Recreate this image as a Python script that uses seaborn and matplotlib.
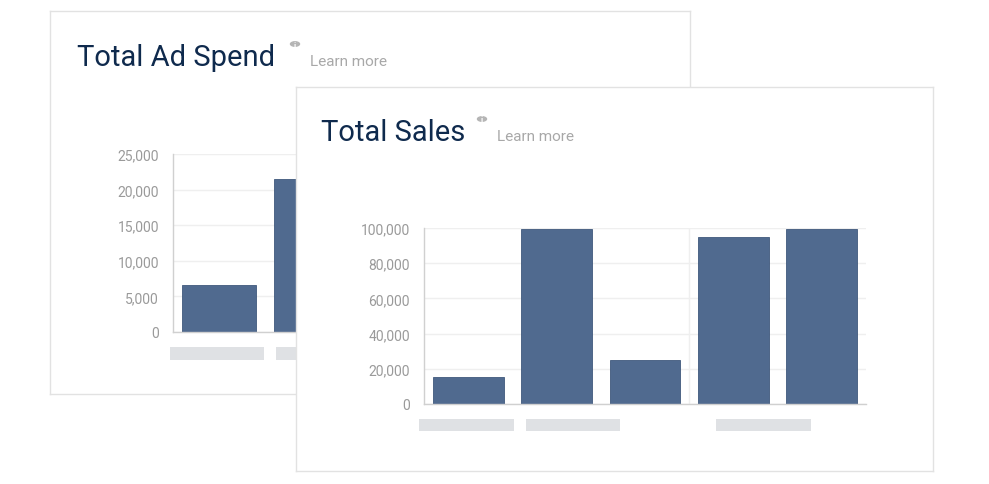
import matplotlib
matplotlib.use("Agg")
import matplotlib.pyplot as plt
import seaborn as sns
import pandas as pd
from matplotlib.patches import Rectangle, Circle

categories = ["A", "B", "C", "D", "E"]
spend_vals = [6600, 21500, 8000, 18000, 20000]
sales_vals = [15500, 99500, 25000, 95000, 99500]
spend_ticks = [0, 5000, 10000, 15000, 20000, 25000]
sales_ticks = [0, 20000, 40000, 60000, 80000, 100000]

sns.set_theme(style="white")
plt.rcParams['font.family'] = ['Roboto', 'DejaVu Sans']

W, H = 989, 485
fig = plt.figure(figsize=(W/100, H/100), dpi=100)

def fr(x0, y0, x1, y1):
    return [x0/W, 1 - y1/H, (x1-x0)/W, (y1-y0)/H]

BAR = "#506a8f"
NAVY = "#0f2a4d"

def card(rect, z):
    a = fig.add_axes(rect, zorder=z)
    a.set_xticks([]); a.set_yticks([])
    a.set_facecolor("white")
    for s in a.spines.values():
        s.set_color("#e2e2e2"); s.set_linewidth(1)
    return a

def chart(rect, z, vals, ticks, blocks):
    a = fig.add_axes(rect, zorder=z)
    df = pd.DataFrame({"cat": categories, "val": vals})
    sns.barplot(data=df, x="cat", y="val", color=BAR, width=0.8, ax=a,
                edgecolor="#3f587c", linewidth=0.6, saturation=1)
    a.set_xlim(-0.5, len(categories) - 0.5)
    a.set_ylim(0, ticks[-1])
    a.set_yticks(ticks)
    a.set_yticklabels([f"{t:,}" for t in ticks])
    a.set_xticks([]); a.set_xlabel(""); a.set_ylabel("")
    a.tick_params(axis="y", colors="#9a9a9a", labelsize=10, length=0, pad=10)
    a.grid(axis="y", color="#efefef", linewidth=1)
    a.set_axisbelow(True)
    for k in ["top", "right"]:
        a.spines[k].set_visible(False)
    for k in ["left", "bottom"]:
        a.spines[k].set_color("#d0d0d0"); a.spines[k].set_linewidth(1)
    for x0, x1 in blocks:
        a.add_patch(Rectangle((x0, -0.155), x1 - x0, 0.068, transform=a.transAxes,
                              color="#dfe1e4", clip_on=False, lw=0))
    return a

def header(x, y, title, icon_x, lm_x):
    fig.text(x/W, 1 - y/H, title, fontsize=21, color=NAVY, va="baseline")
    fig.patches.append(Circle((icon_x/W, 1 - (y-21)/H), 4.5/W, transform=fig.transFigure,
                              color="#b5b5b5", zorder=10))
    fig.text(icon_x/W, 1 - (y-21)/H, "i", fontsize=6, color="white", ha="center",
             va="center", fontweight="bold", zorder=11)
    fig.text(lm_x/W, 1 - y/H, "Learn more", fontsize=11, color="#a8a8a8", va="baseline")

back = card(fr(50, 12, 690, 395), 0)
chart(fr(173, 155, 633, 333), 1, spend_vals, spend_ticks,
      [(-0.007, 0.198), (0.224, 0.43)])
front = card(fr(296, 88, 933, 472), 2)
a2 = chart(fr(424, 229, 866, 405), 3, sales_vals, sales_ticks,
           [(-0.011, 0.204), (0.231, 0.443), (0.661, 0.876)])
a2.axvline(2.5, color="#efefef", lw=1, zorder=0)

header(77, 66, "Total Ad Spend", 295, 310)
header(321, 141, "Total Sales", 482, 497)

fig.savefig("out.png", dpi=100)
